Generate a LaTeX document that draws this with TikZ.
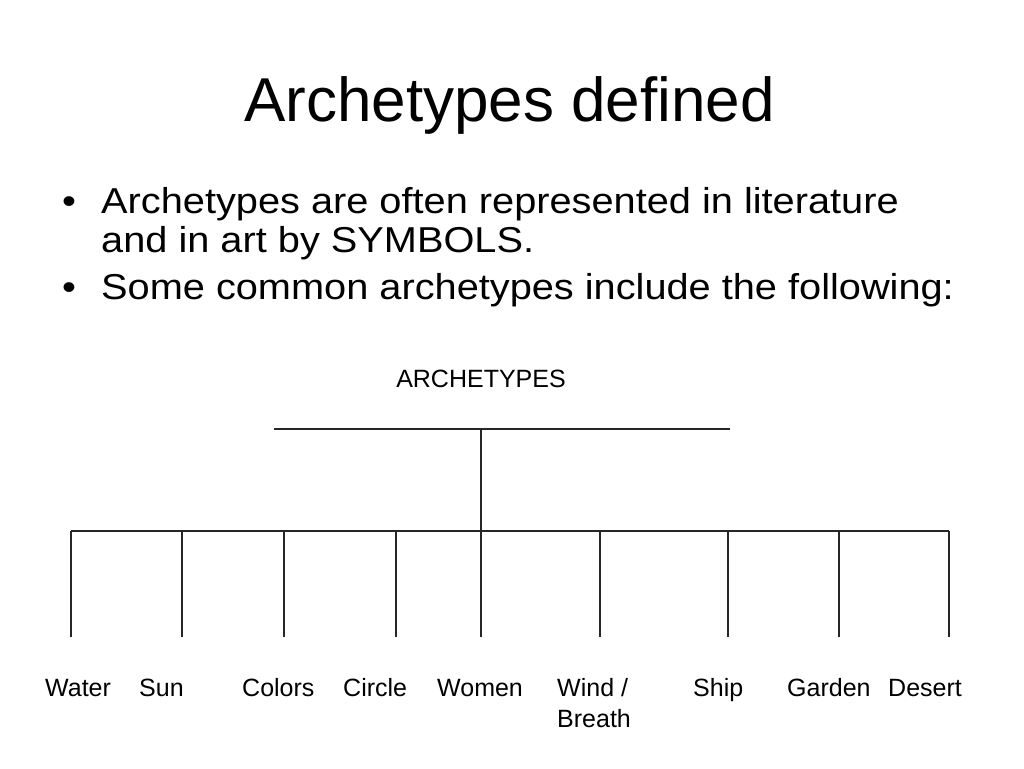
\documentclass[tikz,border=0pt]{standalone}
\usepackage{fontspec}
\setmainfont{Liberation Sans}
\newfontfamily\widesans[FakeStretch=1.104]{Liberation Sans}
\begin{document}
\begin{tikzpicture}[
    x=1pt, y=-1pt,
    heading/.style={inner sep=0pt, anchor=base, font=\fontsize{62}{70}\selectfont},
    point/.style={inner sep=0pt, anchor=base west, font=\widesans\fontsize{36}{39}\selectfont},
    leaf/.style={inner sep=0pt, anchor=base west, font=\fontsize{25}{31}\selectfont},
    branch/.style={line width=1.8pt, draw=black!85}
]
\useasboundingbox[fill=white] (0,0) rectangle (1024,768);

% Titolo
\node[heading] (title) at (509.5,121) {Archetypes defined};

% Punti elenco
\node[point] (dot1) at (62,213) {•};
\node[point] (line1) at (101,213) {Archetypes are often represented in literature};
\node[point] (line2) at (101,252) {and in art by SYMBOLS.};
\node[point] (dot2) at (62,299) {•};
\node[point] (line3) at (101,299) {Some common archetypes include the following:};

% Radice
\node[leaf, anchor=base] (root) at (481,387) {ARCHETYPES};

% Rami
\coordinate (topL) at (274,429);
\coordinate (topR) at (730,429);
\coordinate (stem) at (481,429);
\coordinate (barM) at (481,531);
\coordinate (barL) at (71,531);
\coordinate (barR) at (949,531);
\draw[branch] (topL) -- (topR);
\draw[branch] (stem) -- (barM);
\draw[branch] (barL) -- (barR);
\foreach \x/\n in {71/water, 182/sun, 284/colors, 396/circle, 481/women,
                   600/wind, 728/ship, 839/garden, 949/desert} {
    \coordinate (\n-top) at (\x,531);
    \coordinate (\n-end) at (\x,637);
    \draw[branch] (\n-top) -- (\n-end);
}

% Simboli
\node[leaf] (water) at (45,696) {Water};
\node[leaf] (sun) at (139,696) {Sun};
\node[leaf] (colors) at (242,696) {Colors};
\node[leaf] (circle) at (343,696) {Circle};
\node[leaf] (women) at (437,696) {Women};
\node[leaf] (wind) at (557,696) {Wind /};
\node[leaf] (breath) at (557,727) {Breath};
\node[leaf] (ship) at (693,696) {Ship};
\node[leaf] (garden) at (787,696) {Garden};
\node[leaf] (desert) at (888,696) {Desert};

\end{tikzpicture}
\end{document}
